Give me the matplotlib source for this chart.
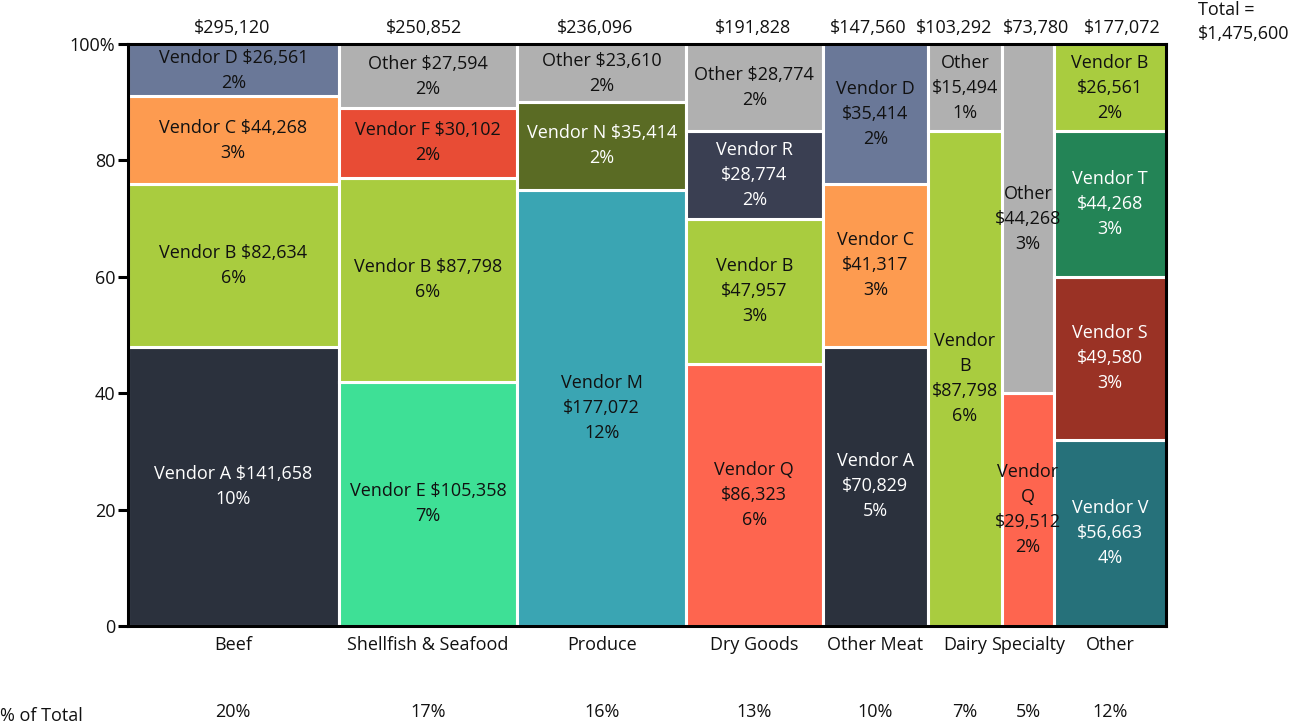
import matplotlib
matplotlib.use("Agg")
import matplotlib.pyplot as plt
from matplotlib.transforms import offset_copy

# ---- data ----
categories = ["Beef", "Shellfish & Seafood", "Produce", "Dry Goods",
              "Other Meat", "Dairy", "Specialty", "Other"]
category_totals = [295120, 250852, 236096, 191828, 147560, 103292, 73780, 177072]
grand_total = 1475600

# segments bottom -> top for each category
seg_names = [
    ["Vendor A", "Vendor B", "Vendor C", "Vendor D"],
    ["Vendor E", "Vendor B", "Vendor F", "Other"],
    ["Vendor M", "Vendor N", "Other"],
    ["Vendor Q", "Vendor B", "Vendor R", "Other"],
    ["Vendor A", "Vendor C", "Vendor D"],
    ["Vendor B", "Other"],
    ["Vendor Q", "Other"],
    ["Vendor V", "Vendor S", "Vendor T", "Vendor B"],
]
seg_values = [
    [141658, 82634, 44268, 26561],
    [105358, 87798, 30102, 27594],
    [177072, 35414, 23610],
    [86323, 47957, 28774, 28774],
    [70829, 41317, 35414],
    [87798, 15494],
    [29512, 44268],
    [56663, 49580, 44268, 26561],
]
# label wrapping style: 0 = "name $v / pct", 1 = "name / $v / pct", 2 = "Vendor / X / $v / pct"
seg_wrap = [
    [0, 0, 0, 0],
    [0, 0, 0, 0],
    [1, 0, 0],
    [1, 1, 1, 0],
    [1, 1, 1],
    [2, 1],
    [2, 1],
    [1, 1, 1, 1],
]

vendor_colors = {
    "Vendor A": "#2b313d", "Vendor B": "#a9cc3f", "Vendor C": "#fd9b50",
    "Vendor D": "#6a7898", "Other": "#b0b0b0", "Vendor E": "#3ee096",
    "Vendor F": "#e84c35", "Vendor M": "#3aa5b3", "Vendor N": "#5a6b24",
    "Vendor Q": "#fe654f", "Vendor R": "#3a3f52", "Vendor T": "#238456",
    "Vendor S": "#9a3225", "Vendor V": "#26717a",
}
white_text = {"Vendor A", "Vendor N", "Vendor R", "Vendor T", "Vendor S", "Vendor V"}

FONT = ["Open Sans", "DejaVu Sans"]
plt.rcParams["font.family"] = FONT
FS = 13
X_MAX = 1455000  # visible end of the x axis (last column is cut off by the plot area)
# horizontal nudges (points) of the column-total labels above the plot
top_dx = [-1, -3, -5, -1, -5, -8, 6, 9]

fig = plt.figure(figsize=(12.94, 7.24), dpi=100)
ax = fig.add_axes([128 / 1294, 1 - 626 / 724, (1166 - 128) / 1294, (626 - 44) / 724])

x0 = 0
for ci, cat in enumerate(categories):
    vals = seg_values[ci]
    col_sum = sum(vals)
    width = category_totals[ci]
    cx = (x0 + min(x0 + width, X_MAX)) / 2
    bottom = 0.0
    for name, v, wrap in zip(seg_names[ci], vals, seg_wrap[ci]):
        h = v / col_sum * 100
        ax.bar(x0, h, width=width, bottom=bottom, align="edge",
               color=vendor_colors[name], edgecolor="white", linewidth=2.2, zorder=2)
        pct = f"{round(v / grand_total * 100):.0f}%"
        val = f"${v:,}"
        if wrap == 0:
            lab = f"{name} {val}\n{pct}"
        elif wrap == 1:
            lab = f"{name}\n{val}\n{pct}"
        else:
            first, second = name.split(" ")
            lab = f"{first}\n{second}\n{val}\n{pct}"
        ax.text(cx, bottom + h / 2, lab, ha="center", va="center",
                fontsize=FS, linespacing=1.5,
                color="white" if name in white_text else "#111111", zorder=3)
        bottom += h
    tr = offset_copy(ax.transData, fig=fig, x=top_dx[ci], y=0, units="points")
    ax.text(cx, 102.8, f"${category_totals[ci]:,}", ha="center", va="center",
            fontsize=FS, color="#111111", transform=tr)
    ax.text(cx, -3.2, cat, ha="center", va="center", fontsize=FS, color="#111111")
    ax.text(cx, -14.8, f"{round(category_totals[ci] / grand_total * 100):.0f}%",
            ha="center", va="center", fontsize=FS, color="#111111")
    x0 += width

ax.set_xlim(0, X_MAX)
ax.set_ylim(0, 100)
ax.set_xticks([])
ax.set_yticks([0, 20, 40, 60, 80, 100])
ax.set_yticklabels(["0", "20", "40", "60", "80", "100%"], fontsize=FS, color="#111111")
ax.tick_params(axis="y", length=7, width=2.2, color="black", pad=2)
for sp in ax.spines.values():
    sp.set_linewidth(2.2)
    sp.set_color("black")
    sp.set_zorder(5)

fig.text(1198 / 1294, 1 - 10 / 724, "Total =", ha="left", va="center", fontsize=FS, color="#111111")
fig.text(1198 / 1294, 1 - 34 / 724, f"${grand_total:,}", ha="left", va="center", fontsize=FS, color="#111111")
fig.text(0 / 1294, 1 - 716 / 724, "% of Total", ha="left", va="center", fontsize=FS, color="#111111")

fig.savefig("out.png", dpi=100, facecolor="white")
